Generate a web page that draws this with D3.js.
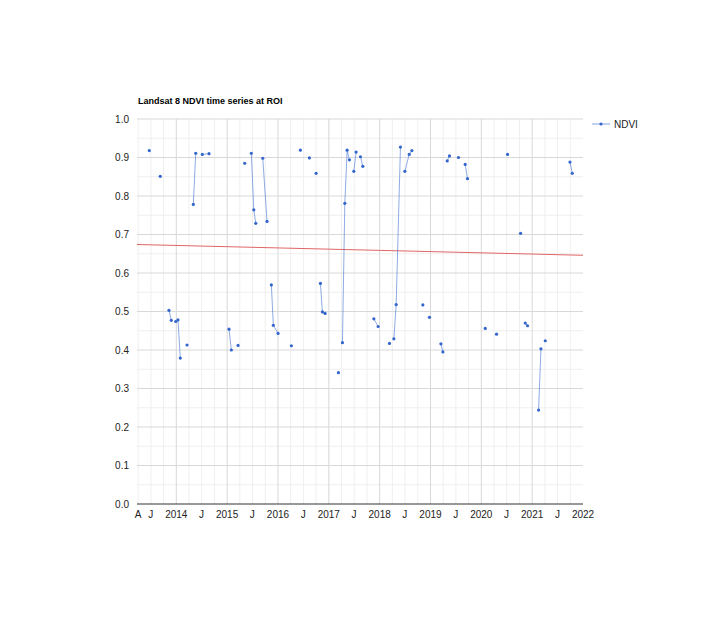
<!DOCTYPE html>
<html><head><meta charset="utf-8">
<script src="https://cdn.jsdelivr.net/npm/d3@7"></script>
<style>body{margin:0;background:#fff;font-family:Arial,"Liberation Sans",sans-serif}</style>
</head><body><svg id="c" width="720" height="623"></svg>
<script>
// decimal-year acquisition dates; null = break in series
const dates = [2013.469,null,2013.685,null,2013.856,2013.902,null,2013.988,2014.033,2014.079,null,2014.211,null,
2014.335,2014.382,null,2014.512,2014.644,null,2015.037,2015.083,null,2015.215,null,2015.346,null,
2015.476,2015.524,2015.563,null,2015.701,2015.785,null,2015.870,2015.909,2016.002,null,2016.264,null,
2016.441,null,2016.618,null,2016.750,null,2016.835,2016.874,2016.927,null,2017.189,null,
2017.268,2017.315,2017.360,2017.406,null,2017.492,2017.537,null,2017.622,2017.669,null,2017.886,2017.970,null,
2018.193,null,2018.280,2018.325,2018.409,null,2018.496,2018.581,2018.634,null,2018.850,null,2018.980,null,
2019.205,2019.244,null,2019.329,2019.374,null,2019.551,null,2019.683,2019.728,null,2020.077,null,2020.299,null,
2020.516,null,2020.772,null,2020.864,2020.909,null,2021.126,2021.173,null,2021.258,null,2021.744,2021.789];
const ndvi = [0.918,null,0.851,null,0.503,0.477,null,0.474,0.478,0.379,null,0.413,null,
0.778,0.911,null,0.908,0.910,null,0.454,0.400,null,0.412,null,0.885,null,
0.911,0.764,0.729,null,0.898,0.734,null,0.569,0.464,0.443,null,0.411,null,
0.919,null,0.899,null,0.859,null,0.573,0.499,0.495,null,0.341,null,
0.419,0.781,0.919,0.894,null,0.864,0.914,null,0.902,0.877,null,0.481,0.461,null,
0.417,null,0.429,0.518,0.927,null,0.864,0.908,0.918,null,0.517,null,0.485,null,
0.416,0.395,null,0.891,0.904,null,0.900,null,0.882,0.845,null,0.456,null,0.441,null,
0.908,null,0.703,null,0.470,0.463,null,0.244,0.403,null,0.424,null,0.888,0.859];
const trendX = [2013.227, 2022.0];
const trendY = [0.674, 0.646];
const yTicks = [0,0.1,0.2,0.3,0.4,0.5,0.6,0.7,0.8,0.9,1.0];
const xTickPos = [2013.247,2013.496,2014,2014.496,2015,2015.496,2016,2016.496,2017,2017.496,2018,2018.496,2019,2019.496,2020,2020.496,2021,2021.496,2022];
const xTickLabels = ["A","J","2014","J","2015","J","2016","J","2017","J","2018","J","2019","J","2020","J","2021","J","2022"];
const title = "Landsat 8 NDVI time series at ROI";
const seriesName = "NDVI";

const svg = d3.select("#c");
const L=137,R=583,T=119,B=504;
const x = d3.scaleLinear().domain([2013.227,2022.0]).range([L,R]);
const y = d3.scaleLinear().domain([0,1]).range([B,T]);
const g = svg.append("g");
// minor grid
const minorX=[]; for(let t=2013.25;t<=2022;t+=0.25) if(Math.abs(t-Math.round(t))>0.01) minorX.push(t);
g.selectAll(".mx").data(minorX).enter().append("line").attr("x1",d=>x(d)).attr("x2",d=>x(d)).attr("y1",T).attr("y2",B).attr("stroke","#efefef");
const minorY=d3.range(0.05,1,0.1);
g.selectAll(".my").data(minorY).enter().append("line").attr("x1",L).attr("x2",R).attr("y1",d=>y(d)).attr("y2",d=>y(d)).attr("stroke","#efefef");
// major grid
g.selectAll(".Mx").data([2014,2015,2016,2017,2018,2019,2020,2021]).enter().append("line").attr("x1",d=>x(d)).attr("x2",d=>x(d)).attr("y1",T).attr("y2",B).attr("stroke","#d8d8d8");
g.selectAll(".My").data(yTicks.slice(1)).enter().append("line").attr("x1",L).attr("x2",R).attr("y1",d=>y(d)).attr("y2",d=>y(d)).attr("stroke","#d8d8d8");
g.append("line").attr("x1",L).attr("x2",R).attr("y1",B).attr("y2",B).attr("stroke","#333");
// y labels
g.selectAll(".yl").data(yTicks).enter().append("text").attr("x",L-8).attr("y",d=>y(d)+3.5).attr("text-anchor","end").attr("font-size",10).attr("fill","#222").text(d=>d.toFixed(1));
g.selectAll(".xl").data(xTickPos).enter().append("text").attr("x",d=>x(d)).attr("y",B+14).attr("text-anchor","middle").attr("font-size",10).attr("fill","#222").text((d,i)=>xTickLabels[i]);
// trend
g.append("line").attr("x1",x(trendX[0])).attr("x2",x(trendX[1])).attr("y1",y(trendY[0])).attr("y2",y(trendY[1])).attr("stroke","#e06666").attr("stroke-width",1);
// series
const pts = dates.map((d,i)=>({d,v:ndvi[i]}));
const line = d3.line().defined(p=>p.d!==null&&p.v!==null).x(p=>x(p.d)).y(p=>y(p.v));
g.append("path").datum(pts).attr("d",line).attr("fill","none").attr("stroke","#3366cc").attr("stroke-opacity",0.55).attr("stroke-width",1);
g.selectAll(".pt").data(pts.filter(p=>p.d!==null)).enter().append("circle").attr("cx",p=>x(p.d)).attr("cy",p=>y(p.v)).attr("r",1.6).attr("fill","#3366cc");
// title
svg.append("text").attr("x",138).attr("y",104).attr("font-size",9).attr("font-weight","bold").attr("fill","#000").text(title);
// legend
svg.append("line").attr("x1",592).attr("x2",610).attr("y1",124).attr("y2",124).attr("stroke","#3366cc").attr("stroke-opacity",0.6);
svg.append("circle").attr("cx",601).attr("cy",124).attr("r",1.6).attr("fill","#3366cc");
svg.append("text").attr("x",614).attr("y",127.5).attr("font-size",10).attr("fill","#222").text(seriesName);
</script></body></html>
